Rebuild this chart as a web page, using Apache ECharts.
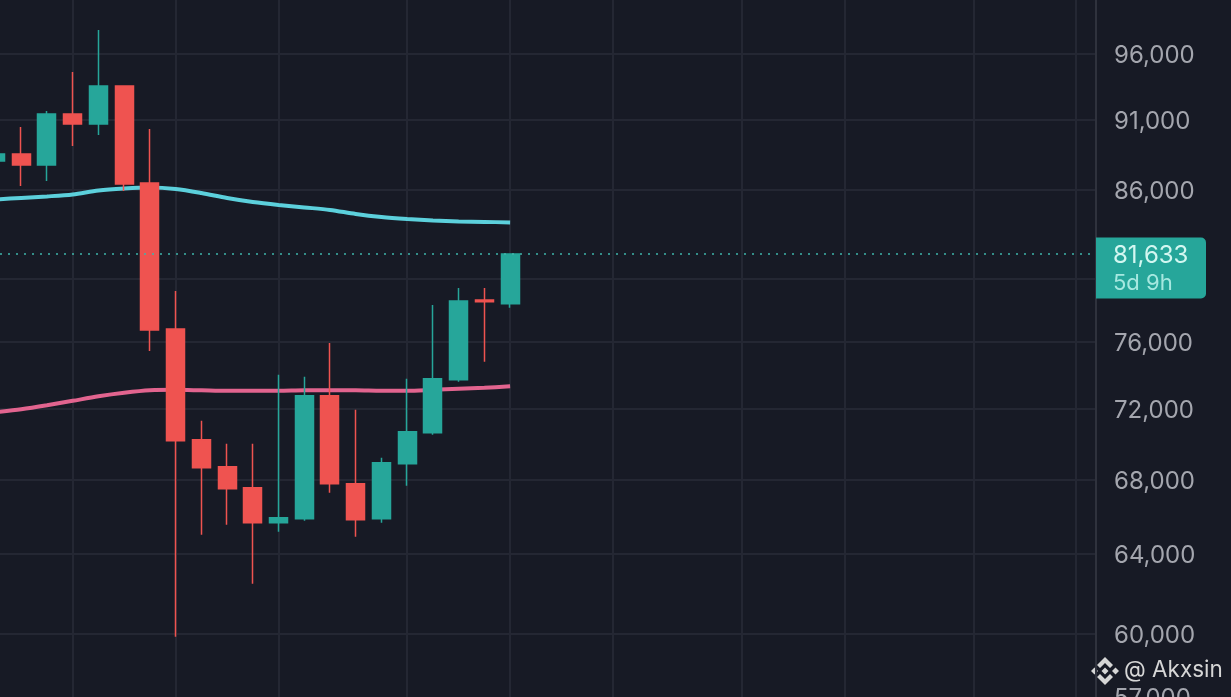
<!DOCTYPE html>
<html><head><meta charset="utf-8">
<style>html,body{margin:0;padding:0;background:#171a25;overflow:hidden}#c{width:1231px;height:697px}</style>
<script src="https://cdn.jsdelivr.net/npm/echarts@6/dist/echarts.min.js"></script>
</head><body><div id="c"></div>
<script>
// [open, close, low, high]
const candles = [
  [88026,88527,88026,88527],[88527,87742,86260,90486],[87742,91444,86611,91667],[91444,90705,89103,94610],
  [90705,93542,89901,97886],[93542,86400,85912,93542],[86471,76759,75462,90339],[76821,70158,59855,79225],
  [70215,68640,65007,71304],[68696,67481,65536,69987],[67536,65643,62477,69987],[65643,65910,65166,74012],
  [65857,72763,65750,73891],[72763,67755,67263,75952],[67755,65803,64906,71942],[65857,68918,65643,69198],
  [68861,70672,67644,73771],[70617,73771,70503,78331],[73712,78585,73593,79417],[78649,78522,74794,79417],
  [78395,81633,78141,81633]
];
const emaCyan = [85323,85427,85530,85669,85947,86087,86157,86052,85773,85427,85149,84943,84772,84600,84326,84121,83985,83883,83815,83781,83747];
const emaPink = [71797,71972,72206,72469,72734,72941,73089,73118,73089,73059,73059,73059,73089,73089,73089,73059,73059,73118,73179,73238,73327];
const gridTicks = [96000,91000,86000,80000,76000,72000,68000,64000,60000];
const priceLabels = [96000,91000,86000,76000,72000,68000,64000,60000,57000];
const timeTicks = [3,7,11,16,20,24,29,33,38,42];
const lastPrice = 81633;
const countdown = '5d 9h';

const gridColor = '#242733', up = '#26a69a', down = '#ef5350', ink = '#d6d6d6';
const fmt = v => Math.round(v).toLocaleString('en-US');
const chart = echarts.init(document.getElementById('c'), null, {renderer:'canvas'});
chart.setOption({
  animation:false,
  backgroundColor:'#171a25',
  grid:{left:0,right:135,top:0,bottom:0,containLabel:false,outerBoundsMode:'none'},
  xAxis:{type:'value',min:0.175,max:42.77,
    axisLine:{show:false},axisLabel:{show:false},
    axisTick:{show:false,customValues:timeTicks},
    splitLine:{show:true,lineStyle:{color:gridColor,width:2}}},
  yAxis:{type:'log',position:'right',min:57000,max:100294,logBase:10,
    axisLine:{show:true,onZero:false,lineStyle:{color:'#2f323d',width:2}},
    axisTick:{show:false,customValues:gridTicks},
    axisLabel:{show:true,customValues:priceLabels,margin:18,color:'#a4a6ae',
      formatter:v=>'{v|'+fmt(v)+'}',showMinLabel:true,showMaxLabel:true,
      rich:{v:{fontFamily:'Inter',fontSize:24,color:'#a4a6ae',padding:[4,0,0,0]}}},
    splitLine:{show:true,lineStyle:{color:gridColor,width:2}}},
  series:[
    {type:'line',data:emaCyan.map((v,i)=>[i,v]),showSymbol:false,smooth:0.3,lineStyle:{color:'#5cd0dc',width:4},z:2},
    {type:'line',data:emaPink.map((v,i)=>[i,v]),showSymbol:false,smooth:0.3,lineStyle:{color:'#e2648f',width:4},z:2},
    {type:'candlestick',barWidth:18.5,z:3,
      data:candles.map((c,i)=>[i,c[0],c[1],c[2],c[3]]),
      encode:{x:0,y:[1,2,3,4]},
      itemStyle:{color:up,color0:down,borderColor:up,borderColor0:down,borderWidth:1.5},
      markLine:{silent:true,symbol:'none',animation:false,
        lineStyle:{color:'#3fb5ab',type:[2,6],width:1.5},
        label:{show:true,position:'end',distance:0,offset:[0,14],
          formatter:'{a|'+fmt(lastPrice)+'}\n{b|'+countdown+'}',
          backgroundColor:up,borderRadius:[0,5,5,0],padding:[4,12,1,17],
          rich:{a:{color:'#d3f7f1',fontFamily:'Inter',fontSize:24,lineHeight:28,width:81},
                b:{color:'#a6e8e0',fontFamily:'Inter',fontSize:22,lineHeight:28,width:81}}},
        data:[{yAxis:lastPrice}]}}
  ],
  graphic:[
    {type:'group',x:1091,y:657,z:50,children:[
      {type:'polygon',shape:{points:[[14,10.5],[17.5,14],[14,17.5],[10.5,14]]},style:{fill:ink}},
      {type:'polygon',shape:{points:[[3.5,10.5],[7,14],[3.5,17.5],[0,14]]},style:{fill:ink}},
      {type:'polygon',shape:{points:[[24.5,10.5],[28,14],[24.5,17.5],[21,14]]},style:{fill:ink}},
      {type:'polygon',shape:{points:[[14,0],[22,8],[19,11],[14,6],[9,11],[6,8]]},style:{fill:ink}},
      {type:'polygon',shape:{points:[[14,28],[6,20],[9,17],[14,22],[19,17],[22,20]]},style:{fill:ink}}
    ]},
    {type:'text',x:1124,y:659,z:50,style:{text:'@ Akxsin',fill:ink,font:'22.5px Inter'}}
  ]
});
</script></body></html>
